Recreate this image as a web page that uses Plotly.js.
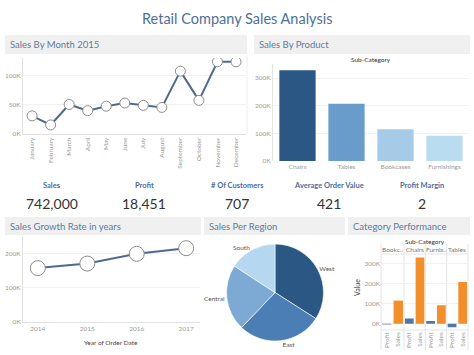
<!DOCTYPE html>
<html><head><meta charset="utf-8">
<script src="https://cdn.plot.ly/plotly-3.0.1.min.js"></script>
<style>html,body{margin:0;padding:0;background:#fff;}#chart{width:474px;height:355px;}</style>
</head><body><div id="chart"></div>
<script>
// ---- data ----
const months = ['January','February','March','April','May','June','July','August','September','October','November','December'];
const monthSales = [31000, 15500, 50500, 40000, 47500, 53000, 49000, 45500, 107500, 57500, 123500, 123500];
const monthTickVals = [0, 50000, 100000];
const monthTickText = ['0K', '50K', '100K'];

const products = ['Chairs', 'Tables', 'Bookcases', 'Furnishings'];
const productSales = [328449, 206966, 114880, 91705];
const productTickVals = [0, 100000, 200000, 300000];
const productTickText = ['0K', '100K', '200K', '300K'];

const kpiLabels = ['Sales', 'Profit', '# Of Customers', 'Average Order Value', 'Profit Margin'];
const kpiValues = ['742,000', '18,451', '707', '421', '2'];

const years = ['2014', '2015', '2016', '2017'];
const yearSales = [157193, 170518, 198901, 215387];
const yearTickVals = [0, 100000, 200000];
const yearTickText = ['0K', '100K', '200K'];

const regions = ['West', 'East', 'Central', 'South'];
const regionSales = [252613, 208291, 163797, 117299];

const subCats = ['Bookcases', 'Chairs', 'Furnishings', 'Tables'];
const subCatLabels = ['Bookc..', 'Chairs', 'Furnis..', 'Tables'];
const measures = ['Profit', 'Sales'];
const subCatProfit = [-3473, 26590, 13059, -17725];
const subCatSales = [114880, 328449, 91705, 206966];
const perfTickVals = [0, 100000, 200000, 300000];
const perfTickText = ['0K', '100K', '200K', '300K'];

// ---- styles ----
const W = 474, H = 355;
const px = v => v / W;
const py = v => 1 - v / H;
const FONT = 'Lato, "Open Sans", sans-serif';
const HEAD_BG = '#f0f0f0';
const HEAD_TXT = '#5b7ba2';
const TICK = {size: 6.5, color: '#9a9a9a', family: FONT};
const GRID = '#f1f1f1';
const AXLINE = '#e2e2e2';
const productColors = ['#2a5783', '#6a9ccb', '#a5cbe8', '#b9dcf1'];
const regionColors = ['#2a5783', '#4b7eb4', '#7caad5', '#b5d7ef'];
const measureColors = ['#4e79a7', '#f28e2b'];

const traces = [];
traces.push({
  type: 'scatter', mode: 'lines+markers', x: months, y: monthSales,
  xaxis: 'x', yaxis: 'y',
  line: {color: '#4e6a8c', width: 2},
  marker: {size: 10, color: '#ffffff', line: {color: '#8c8c8c', width: 1}},
  hoverinfo: 'x+y'
});
traces.push({
  type: 'bar', x: products, y: productSales, xaxis: 'x2', yaxis: 'y2',
  marker: {color: productColors}, width: 0.74
});
traces.push({
  type: 'scatter', mode: 'lines+markers', x: years, y: yearSales,
  xaxis: 'x3', yaxis: 'y3',
  line: {color: '#4e6a8c', width: 2},
  marker: {size: 15, color: '#ffffff', line: {color: '#8c8c8c', width: 1}}
});
traces.push({
  type: 'pie', labels: regions, values: regionSales, sort: false,
  direction: 'clockwise', rotation: 0,
  marker: {colors: regionColors, line: {color: '#ffffff', width: 0.6}},
  textinfo: 'label', textposition: 'outside',
  textfont: {size: 6.5, color: '#555555', family: FONT},
  domain: {x: [px(226.5), px(323.5)], y: [py(341), py(244)]},
  showlegend: false
});
subCats.forEach((c, i) => {
  traces.push({
    type: 'bar', x: measures, y: [subCatProfit[i], subCatSales[i]],
    xaxis: 'x' + (4 + i), yaxis: 'y4',
    marker: {color: measureColors}, width: 0.82, name: c
  });
});

function yax(dom, range, vals, text, anchor) {
  return {domain: dom, range: range, tickvals: vals, ticktext: text, tickfont: TICK,
    showgrid: true, gridcolor: GRID, zeroline: false, showline: true, linecolor: AXLINE,
    ticks: '', anchor: anchor, fixedrange: true};
}

const layout = {
  width: W, height: H, margin: {l: 0, r: 0, t: 0, b: 0},
  paper_bgcolor: '#ffffff', plot_bgcolor: 'rgba(0,0,0,0)',
  showlegend: false, font: {family: FONT},
  xaxis: {domain: [px(23), px(246)], range: [-0.49, 11.54], type: 'category',
    tickangle: -90, tickfont: TICK, showgrid: false, showline: true, linecolor: AXLINE,
    ticks: '', anchor: 'y'},
  yaxis: yax([py(134), py(58)], [0, 130000], monthTickVals, monthTickText, 'x'),
  xaxis2: {domain: [px(273), px(469)], range: [-0.5, 3.5], type: 'category',
    tickfont: TICK, showgrid: false, showline: false, ticks: '', anchor: 'y2'},
  yaxis2: yax([py(161), py(64)], [0, 350600], productTickVals, productTickText, 'x2'),
  xaxis3: {domain: [px(23), px(200)], range: [-0.3, 3.28], type: 'category',
    tickfont: TICK, showgrid: false, showline: true, linecolor: AXLINE, ticks: '', anchor: 'y3'},
  yaxis3: yax([py(322), py(237)], [0, 248000], yearTickVals, yearTickText, 'x3'),
  yaxis4: Object.assign(yax([py(330), py(254)], [-31000, 346000], perfTickVals, perfTickText, 'x4'), {showline: false}),
  annotations: [], shapes: []
};
const facetEdges = [381, 404, 425.3, 446.7, 468];
subCats.forEach((c, i) => {
  layout['xaxis' + (4 + i)] = {domain: [px(facetEdges[i]), px(facetEdges[i + 1])], type: 'category',
    range: [-0.5, 1.5], tickangle: -90, tickfont: TICK, showgrid: false, showline: false,
    ticks: '', anchor: 'y4'};
});

// header bands + titles
const heads = [
  [5, 247, 35, 54, 'Sales By Month 2015'],
  [254, 470, 35, 54, 'Sales By Product'],
  [5, 201, 217, 235, 'Sales Growth Rate in years'],
  [204, 345, 217, 235, 'Sales Per Region'],
  [348, 470, 217, 235, 'Category Performance']
];
heads.forEach(h => {
  layout.shapes.push({type: 'rect', xref: 'paper', yref: 'paper', x0: px(h[0]), x1: px(h[1]),
    y0: py(h[3]), y1: py(h[2]), fillcolor: HEAD_BG, line: {width: 0}, layer: 'below'});
  layout.annotations.push({xref: 'paper', yref: 'paper', x: px(h[0] + 2.5), y: py((h[2] + h[3]) / 2),
    xanchor: 'left', yanchor: 'middle', showarrow: false, text: h[4],
    font: {size: 9.5, color: HEAD_TXT, family: FONT}});
});
// main title
layout.annotations.push({xref: 'paper', yref: 'paper', x: 0.5, y: py(18), xanchor: 'center', yanchor: 'middle',
  showarrow: false, text: 'Retail Company Sales Analysis', font: {size: 14.5, color: '#4f6f99', family: FONT}});
// KPI
const kpiX = [52, 144, 237, 329, 422];
kpiLabels.forEach((l, i) => {
  layout.annotations.push({xref: 'paper', yref: 'paper', x: px(kpiX[i]), y: py(185), xanchor: 'center', yanchor: 'middle',
    showarrow: false, text: '<b>' + l + '</b>', font: {size: 7.5, color: '#4e6e9a', family: FONT}});
  layout.annotations.push({xref: 'paper', yref: 'paper', x: px(kpiX[i]), y: py(203), xanchor: 'center', yanchor: 'middle',
    showarrow: false, text: kpiValues[i], font: {size: 14, color: '#333333', family: FONT}});
});
// sub-category labels
layout.annotations.push({xref: 'paper', yref: 'paper', x: px(371), y: py(59.5), xanchor: 'center', yanchor: 'middle',
  showarrow: false, text: 'Sub-Category', font: {size: 6.5, color: '#333333', family: FONT}});
layout.annotations.push({xref: 'paper', yref: 'paper', x: px(424.5), y: py(241), xanchor: 'center', yanchor: 'middle',
  showarrow: false, text: 'Sub-Category', font: {size: 6.5, color: '#333333', family: FONT}});
layout.annotations.push({xref: 'paper', yref: 'paper', x: px(111), y: py(342.5), xanchor: 'center', yanchor: 'middle',
  showarrow: false, text: 'Year of Order Date', font: {size: 6.5, color: '#444444', family: FONT}});
layout.annotations.push({xref: 'paper', yref: 'paper', x: px(357), y: py(288), xanchor: 'center', yanchor: 'middle',
  textangle: -90, showarrow: false, text: 'Value', font: {size: 7, color: '#444444', family: FONT}});
subCatLabels.forEach((l, i) => {
  layout.annotations.push({xref: 'paper', yref: 'paper', x: px((facetEdges[i] + facetEdges[i + 1]) / 2), y: py(249.5),
    xanchor: 'center', yanchor: 'middle', showarrow: false, text: l,
    font: {size: 6.5, color: '#777777', family: FONT}});
});
facetEdges.forEach(e => {
  layout.shapes.push({type: 'line', xref: 'paper', yref: 'paper', x0: px(e), x1: px(e), y0: py(350), y1: py(244),
    line: {color: '#e4e4e4', width: 1}, layer: 'below'});
});
layout.shapes.push({type: 'line', xref: 'paper', yref: 'paper', x0: px(381), x1: px(468), y0: py(254), y1: py(254),
  line: {color: '#e4e4e4', width: 1}, layer: 'below'});
layout.shapes.push({type: 'line', xref: 'paper', yref: 'paper', x0: px(381), x1: px(468), y0: py(330), y1: py(330),
  line: {color: '#e4e4e4', width: 1}, layer: 'below'});
layout.shapes.push({type: 'line', xref: 'paper', yref: 'paper', x0: px(247), x1: px(247), y0: py(134), y1: py(56),
  line: {color: '#eeeeee', width: 1}, layer: 'below'});

Plotly.newPlot('chart', traces, layout, {staticPlot: true, displayModeBar: false});
</script>
</body></html>
